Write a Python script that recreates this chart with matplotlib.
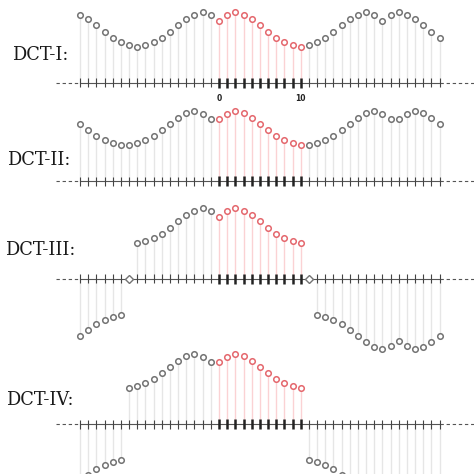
import numpy as np
import matplotlib
matplotlib.use("Agg")
import matplotlib.pyplot as plt

# the 11 input samples (arbitrary units, same for every panel)
samples = [62, 67.5, 70.5, 68, 63.5, 57.5, 51, 45, 41, 38, 36]
labels = ["DCT-I:", "DCT-II:", "DCT-III:", "DCT-IV:"]
k_lo, k_hi = -17, 27
tick_text = ["0", "10"]

N = len(samples)


def ext(kind, k):
    if kind == 0:      # even at 0 and N-1
        m = k % (2 * N - 2)
        if m > N - 1:
            m = 2 * N - 2 - m
        return samples[m]
    if kind == 1:      # even at -1/2 and N-1/2
        m = k % (2 * N)
        if m > N - 1:
            m = 2 * N - 1 - m
        return samples[m]
    if kind == 2:      # even at 0, odd at N
        m = k % (4 * N)
        if m > 2 * N:
            m = 4 * N - m
        if m == N:
            return 0.0
        if m > N:
            return -samples[2 * N - m]
        return samples[m]
    # even at -1/2, odd at N-1/2
    m = k % (4 * N)
    if m >= 2 * N:
        m = 4 * N - 1 - m
    if m > N - 1:
        return -samples[2 * N - 1 - m]
    return samples[m]


W = 474
baselines = [82.7, 181, 278.7, 424.3]
label_xy = [(40, 55), (39, 160), (40, 250), (40, 400)]
x0px, dx = 219, 8.17

fig = plt.figure(figsize=(4.74, 4.74), dpi=100)
ks = np.arange(k_lo, k_hi + 1)

gray_m, red_m = "#737373", "#e4676d"
gray_s, red_s = "#e6e6e6", "#fbd2d4"

for p, base in enumerate(baselines):
    ax = fig.add_axes([0, 0, 1, 1])
    ax.set_xlim(-x0px / dx, (W - x0px) / dx)
    ax.set_ylim(base - W, base)
    ax.axis("off")
    ax.patch.set_alpha(0)

    vals = np.array([ext(p, k) for k in ks])
    inside = (ks >= 0) & (ks < N)
    zero = vals == 0
    outer = ~inside & ~zero

    # stems
    ax.vlines(ks[outer], 0, vals[outer], color=gray_s, lw=1.0, zorder=1)
    ax.vlines(ks[inside], 0, vals[inside], color=red_s, lw=1.0, zorder=1)

    # axis line + dashed continuation
    ax.plot([k_lo, k_hi], [0, 0], color="#555555", lw=0.8, zorder=2)
    ax.plot([k_lo - 2.9, k_lo], [0, 0], color="#555555", lw=0.8, ls=(0, (3, 2.5)), zorder=2)
    ax.plot([k_hi, k_hi + 4.2], [0, 0], color="#555555", lw=0.8, ls=(0, (3, 2.5)), zorder=2)

    # ticks
    ax.vlines(ks[outer], -4.5, 4.5, color="#444444", lw=0.8, zorder=3)
    ax.vlines(ks[inside], -5, 5, color="#222222", lw=1.8, zorder=3)

    # markers
    ax.plot(ks[outer], vals[outer], "o", ms=4.0, mfc="white",
            mec=gray_m, mew=1.1, zorder=4)
    ax.plot(ks[inside], vals[inside], "o", ms=4.0, mfc="white",
            mec=red_m, mew=1.1, zorder=4)
    if zero.any():
        ax.plot(ks[zero], vals[zero], "D", ms=3.6, mfc="white",
                mec=gray_m, mew=1.0, zorder=4)

    if p == 0:
        for t in tick_text:
            ax.text(int(t), -16, t, ha="center", va="center", fontsize=5.5,
                    fontweight="bold", color="#222222")

    lx, ly = label_xy[p]
    fig.text(lx / W, 1 - ly / W, labels[p], ha="center", va="center",
             fontsize=12.8, family="DejaVu Serif", color="#1a1a1a")

fig.savefig("out.png", dpi=100)
